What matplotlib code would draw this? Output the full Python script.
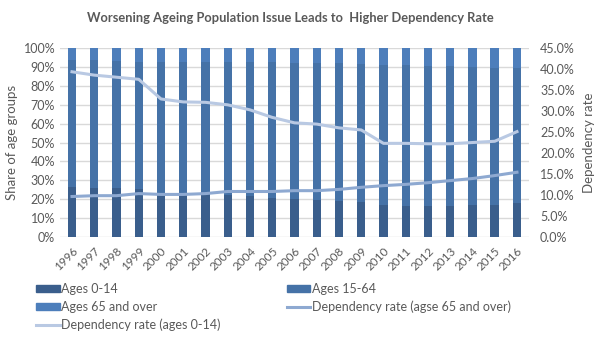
import numpy as np
import matplotlib
matplotlib.use("Agg")
import matplotlib.pyplot as plt
from matplotlib.ticker import PercentFormatter
from matplotlib.patches import Patch
from matplotlib.lines import Line2D

plt.rcParams["font.family"] = ["Lato", "DejaVu Sans"]

# --- data ---
years = [str(y) for y in range(1996, 2017)]
share_0_14 = [26.5, 25.9, 25.9, 25.2, 22.9, 22.7, 22.5, 22.3, 21.7, 20.7, 20.0,
              19.5, 19.0, 18.2, 16.8, 16.5, 16.3, 16.3, 16.8, 16.8, 18.0]
share_65 = [6.2, 6.2, 6.7, 7.0, 7.0, 7.0, 7.3, 7.3, 7.3, 7.3, 7.8,
            8.0, 8.0, 8.4, 8.9, 8.9, 9.4, 9.4, 10.1, 10.6, 10.6]
share_15_64 = [100 - a - b for a, b in zip(share_0_14, share_65)]
dep_65 = [9.6, 9.8, 9.8, 10.3, 10.1, 10.1, 10.3, 10.8, 10.8, 10.8, 11.0,
          11.0, 11.3, 11.8, 12.2, 12.5, 12.9, 13.4, 13.9, 14.6, 15.4]
dep_0_14 = [39.4, 38.6, 38.1, 37.6, 32.9, 32.2, 32.1, 31.5, 30.3, 28.5, 27.2,
            26.9, 26.0, 25.5, 22.3, 22.3, 22.2, 22.2, 22.5, 22.8, 25.1]

c_young, c_work, c_old = "#3A5E8C", "#4572A7", "#4D7EBB"
c_line65, c_line014 = "#8EA9D1", "#B9C9E3"
text_col = "#595959"

fig = plt.figure(figsize=(5.98, 3.37), dpi=100)
ax = fig.add_axes([0.1003, 0.2976, 0.7843, 0.559])
x = np.arange(len(years))
w = 0.38

# --- stacked bars (left axis) ---
ax.bar(x, share_0_14, w, color=c_young, zorder=2)
ax.bar(x, share_15_64, w, bottom=share_0_14, color=c_work, zorder=2)
ax.bar(x, share_65, w, bottom=[a + b for a, b in zip(share_0_14, share_15_64)],
       color=c_old, zorder=2)
ax.set_ylim(0, 100)
ax.set_xlim(-0.54, len(years) - 0.46)
ax.set_yticks(np.arange(0, 101, 10))
ax.yaxis.set_major_formatter(PercentFormatter(decimals=0))
ax.grid(axis="y", color="#D9D9D9", lw=1, zorder=0)
ax.set_axisbelow(True)
ax.set_xticks(x)
ax.set_xticklabels(years, rotation=45, ha="right", rotation_mode="anchor")
ax.set_ylabel("Share of age groups", color=text_col, fontsize=9.5, labelpad=4)
for s in ax.spines.values():
    s.set_visible(False)
ax.tick_params(length=0, colors=text_col, labelsize=9)
ax.tick_params(axis="x", pad=6, labelsize=8.5)

# --- dependency rates (right axis) ---
ax2 = ax.twinx()
ax2.plot(x, dep_65, color=c_line65, lw=2.2, zorder=3)
ax2.plot(x, dep_0_14, color=c_line014, lw=2.2, zorder=3)
ax2.set_ylim(0, 45)
ax2.set_yticks(np.arange(0, 46, 5))
ax2.yaxis.set_major_formatter(PercentFormatter(decimals=1))
for s in ax2.spines.values():
    s.set_visible(False)
ax2.tick_params(length=0, colors=text_col, labelsize=9, pad=8)
ax2.set_ylabel("Dependency rate", color=text_col, fontsize=9.5, labelpad=6)

fig.text(0.485, 0.948, "Worsening Ageing Population Issue Leads to  Higher Dependency Rate",
         ha="center", va="center", fontsize=9.3, fontweight="bold", color=text_col)

handles = [
    Patch(color=c_young, label="Ages 0-14"),
    Patch(color=c_old, label="Ages 65 and over"),
    Line2D([], [], color=c_line014, lw=2.2, label="Dependency rate (ages 0-14)"),
    Patch(color=c_work, label="Ages 15-64"),
    Line2D([], [], color=c_line65, lw=2.2, label="Dependency rate (agse 65 and over)"),
]
fig.legend(handles=handles, ncol=2, loc="upper left", bbox_to_anchor=(0.06, 0.16),
           frameon=False, fontsize=9, labelcolor=text_col, handlelength=1.9,
           handleheight=0.55, handletextpad=0.1, labelspacing=0.45,
           columnspacing=5.3, borderaxespad=0, borderpad=0)

fig.savefig("out.png", dpi=100)
